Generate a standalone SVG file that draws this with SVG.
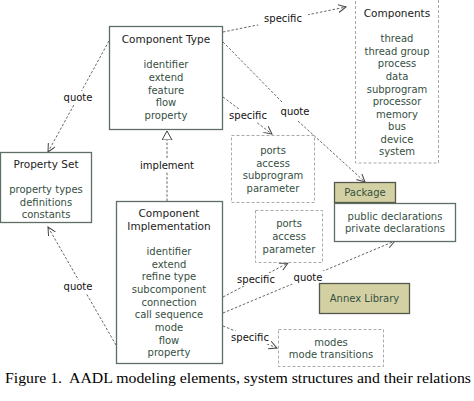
<svg xmlns="http://www.w3.org/2000/svg" width="474" height="401" viewBox="0 0 474 401">
<defs>
<style>
.box{fill:#fff;stroke:#5e7064;stroke-width:1.3}
.dbox{fill:#fff;stroke:#a8aaa6;stroke-width:1;stroke-dasharray:3,2}
.fill{fill:#d3d1a4;stroke:#55584a;stroke-width:1.3}
.t{font-family:"DejaVu Sans",sans-serif;font-size:10px;fill:#36503f;text-anchor:middle}
.h{font-family:"DejaVu Sans",sans-serif;font-size:10.5px;fill:#222;text-anchor:middle}
.lb{font-family:"DejaVu Sans",sans-serif;font-size:10px;fill:#111;text-anchor:middle}
.c{fill:none;stroke:#555;stroke-width:0.9;stroke-dasharray:2.5,1.8}
.cap{font-family:"Liberation Serif",serif;font-size:15.5px;fill:#000;white-space:pre}
</style>
<marker id="ar" markerWidth="10" markerHeight="10" refX="8" refY="4" orient="auto" markerUnits="userSpaceOnUse">
<path d="M0,0 L8,4 L0,8" fill="none" stroke="#444" stroke-width="1"/>
</marker>
<marker id="tri" markerWidth="12" markerHeight="12" refX="9" refY="5" orient="auto" markerUnits="userSpaceOnUse">
<path d="M0,0 L9,5 L0,10 Z" fill="#fff" stroke="#444" stroke-width="1"/>
</marker>
</defs>
<rect width="474" height="401" fill="#fff"/>

<g id="connectors">
<path class="c" d="M223,32 L346,7" marker-end="url(#ar)"/>
<path class="c" d="M223,42 L282,102 M298,121 L365,182" marker-end="url(#ar)"/>
<path class="c" d="M223,97 L272,134" marker-end="url(#ar)"/>
<path class="c" d="M109,41 L48,152" marker-end="url(#ar)"/>
<path class="c" d="M167,201 L167,131" marker-end="url(#tri)"/>
<path class="c" d="M116,345 L48,227" marker-end="url(#ar)"/>
<path class="c" d="M223,297 L288,263" marker-end="url(#ar)"/>
<path class="c" d="M223,313 L395,241" marker-end="url(#ar)"/>
<path class="c" d="M223,326 L277,348" marker-end="url(#ar)"/>
<rect x="258" y="12" width="50" height="13" fill="#fff"/>
<text class="lb" x="283" y="22">specific</text>
<rect x="279" y="105" width="32" height="13" fill="#fff"/>
<text class="lb" x="295" y="115">quote</text>
<rect x="228" y="109" width="40" height="13" fill="#fff"/>
<text class="lb" x="248" y="119">specific</text>
<rect x="62" y="91" width="32" height="13" fill="#fff"/>
<text class="lb" x="78" y="101">quote</text>
<rect x="140" y="159" width="54" height="13" fill="#fff"/>
<text class="lb" x="167" y="169">implement</text>
<rect x="62" y="280" width="32" height="13" fill="#fff"/>
<text class="lb" x="78" y="290">quote</text>
<rect x="236" y="273" width="40" height="13" fill="#fff"/>
<text class="lb" x="256" y="283">specific</text>
<rect x="292" y="271" width="32" height="13" fill="#fff"/>
<text class="lb" x="308" y="281">quote</text>
<rect x="230" y="331" width="40" height="13" fill="#fff"/>
<text class="lb" x="250" y="341">specific</text>
</g>

<g id="component-type">
<rect class="box" x="109.5" y="26.5" width="113" height="103"/>
<text class="h" x="166" y="43">Component Type</text>
<text class="t" x="166" y="68">identifier</text>
<text class="t" x="166" y="81">extend</text>
<text class="t" x="166" y="94">feature</text>
<text class="t" x="166" y="106">flow</text>
<text class="t" x="166" y="119">property</text>
</g>

<g id="property-set">
<rect class="box" x="0.5" y="152.5" width="91" height="70"/>
<text class="h" x="46" y="168">Property Set</text>
<text class="t" x="46" y="193">property types</text>
<text class="t" x="46" y="206">definitions</text>
<text class="t" x="46" y="218">constants</text>
</g>

<g id="component-implementation">
<rect class="box" x="116.5" y="201.5" width="106" height="162"/>
<text class="h" x="169" y="217">Component</text>
<text class="h" x="169" y="230">Implementation</text>
<text class="t" x="169" y="255">identifier</text>
<text class="t" x="169" y="268">extend</text>
<text class="t" x="169" y="280">refine type</text>
<text class="t" x="169" y="293">subcomponent</text>
<text class="t" x="169" y="306">connection</text>
<text class="t" x="169" y="318">call sequence</text>
<text class="t" x="169" y="331">mode</text>
<text class="t" x="169" y="344">flow</text>
<text class="t" x="169" y="356">property</text>
</g>

<g id="components">
<rect class="dbox" x="355.5" y="-2" width="83" height="165"/>
<text class="h" x="397" y="17">Components</text>
<text class="t" x="397" y="42">thread</text>
<text class="t" x="397" y="55">thread group</text>
<text class="t" x="397" y="67">process</text>
<text class="t" x="397" y="80">data</text>
<text class="t" x="397" y="93">subprogram</text>
<text class="t" x="397" y="105">processor</text>
<text class="t" x="397" y="118">memory</text>
<text class="t" x="397" y="130">bus</text>
<text class="t" x="397" y="143">device</text>
<text class="t" x="397" y="155">system</text>
</g>

<g id="type-features">
<rect class="dbox" x="231.5" y="135.5" width="83" height="67"/>
<text class="t" x="273" y="154">ports</text>
<text class="t" x="273" y="167">access</text>
<text class="t" x="273" y="179">subprogram</text>
<text class="t" x="273" y="192">parameter</text>
</g>

<g id="package">
<rect class="fill" x="334.5" y="182.5" width="61" height="20"/>
<text class="t" x="365" y="196" fill="#333">Package</text>
<rect class="box" x="334.5" y="203.5" width="121" height="38"/>
<text class="t" x="395" y="220">public declarations</text>
<text class="t" x="395" y="232">private declarations</text>
</g>

<g id="impl-features">
<rect class="dbox" x="255.5" y="210.5" width="67" height="52"/>
<text class="t" x="289" y="227">ports</text>
<text class="t" x="289" y="240">access</text>
<text class="t" x="289" y="253">parameter</text>
</g>

<g id="annex-library">
<rect class="fill" x="319.5" y="283.5" width="90" height="30"/>
<text class="t" x="364.5" y="302">Annex Library</text>
</g>

<g id="modes">
<rect class="dbox" x="278.5" y="329.5" width="105" height="37"/>
<text class="t" x="331" y="346">modes</text>
<text class="t" x="331" y="358">mode transitions</text>
</g>

<text class="cap" x="5" y="383" textLength="466" lengthAdjust="spacingAndGlyphs">Figure 1.&#160; AADL modeling elements, system structures and their relations</text>
</svg>
